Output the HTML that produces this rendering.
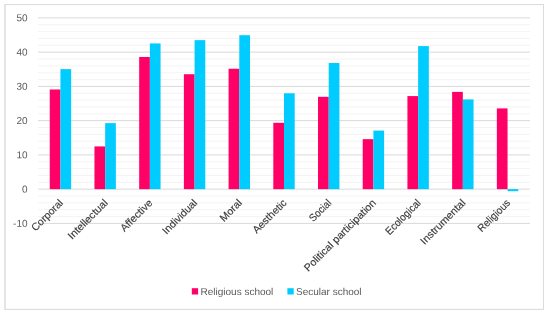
<!DOCTYPE html><html><head><meta charset="utf-8"><title>Chart</title><style>html,body{margin:0;padding:0;background:#fff}svg{display:block}text{font-family:"Liberation Sans",sans-serif;text-rendering:geometricPrecision}</style></head><body>
<svg width="550" height="313" viewBox="0 0 550 313">
<rect x="0" y="0" width="550" height="313" fill="#fff"/>
<rect x="4.9" y="4.55" width="538.6" height="304.85" fill="#fff" stroke="#dcdcdc" stroke-width="1.1"/>
<line x1="4.9" x2="4.9" y1="4" y2="310" stroke="#e2e2e2" stroke-width="1.5"/>
<line x1="38.1" x2="529.9" y1="223.40" y2="223.40" stroke="#d9d9d9" stroke-width="1"/>
<line x1="38.1" x2="529.9" y1="216.55" y2="216.55" stroke="#f0f0f0" stroke-width="0.8"/>
<line x1="38.1" x2="529.9" y1="209.70" y2="209.70" stroke="#f0f0f0" stroke-width="0.8"/>
<line x1="38.1" x2="529.9" y1="202.85" y2="202.85" stroke="#f0f0f0" stroke-width="0.8"/>
<line x1="38.1" x2="529.9" y1="196.00" y2="196.00" stroke="#f0f0f0" stroke-width="0.8"/>
<line x1="38.1" x2="529.9" y1="189.15" y2="189.15" stroke="#d9d9d9" stroke-width="1"/>
<line x1="38.1" x2="529.9" y1="182.30" y2="182.30" stroke="#f0f0f0" stroke-width="0.8"/>
<line x1="38.1" x2="529.9" y1="175.45" y2="175.45" stroke="#f0f0f0" stroke-width="0.8"/>
<line x1="38.1" x2="529.9" y1="168.60" y2="168.60" stroke="#f0f0f0" stroke-width="0.8"/>
<line x1="38.1" x2="529.9" y1="161.75" y2="161.75" stroke="#f0f0f0" stroke-width="0.8"/>
<line x1="38.1" x2="529.9" y1="154.90" y2="154.90" stroke="#d9d9d9" stroke-width="1"/>
<line x1="38.1" x2="529.9" y1="148.05" y2="148.05" stroke="#f0f0f0" stroke-width="0.8"/>
<line x1="38.1" x2="529.9" y1="141.20" y2="141.20" stroke="#f0f0f0" stroke-width="0.8"/>
<line x1="38.1" x2="529.9" y1="134.35" y2="134.35" stroke="#f0f0f0" stroke-width="0.8"/>
<line x1="38.1" x2="529.9" y1="127.50" y2="127.50" stroke="#f0f0f0" stroke-width="0.8"/>
<line x1="38.1" x2="529.9" y1="120.65" y2="120.65" stroke="#d9d9d9" stroke-width="1"/>
<line x1="38.1" x2="529.9" y1="113.80" y2="113.80" stroke="#f0f0f0" stroke-width="0.8"/>
<line x1="38.1" x2="529.9" y1="106.95" y2="106.95" stroke="#f0f0f0" stroke-width="0.8"/>
<line x1="38.1" x2="529.9" y1="100.10" y2="100.10" stroke="#f0f0f0" stroke-width="0.8"/>
<line x1="38.1" x2="529.9" y1="93.25" y2="93.25" stroke="#f0f0f0" stroke-width="0.8"/>
<line x1="38.1" x2="529.9" y1="86.40" y2="86.40" stroke="#d9d9d9" stroke-width="1"/>
<line x1="38.1" x2="529.9" y1="79.55" y2="79.55" stroke="#f0f0f0" stroke-width="0.8"/>
<line x1="38.1" x2="529.9" y1="72.70" y2="72.70" stroke="#f0f0f0" stroke-width="0.8"/>
<line x1="38.1" x2="529.9" y1="65.85" y2="65.85" stroke="#f0f0f0" stroke-width="0.8"/>
<line x1="38.1" x2="529.9" y1="59.00" y2="59.00" stroke="#f0f0f0" stroke-width="0.8"/>
<line x1="38.1" x2="529.9" y1="52.15" y2="52.15" stroke="#d9d9d9" stroke-width="1"/>
<line x1="38.1" x2="529.9" y1="45.30" y2="45.30" stroke="#f0f0f0" stroke-width="0.8"/>
<line x1="38.1" x2="529.9" y1="38.45" y2="38.45" stroke="#f0f0f0" stroke-width="0.8"/>
<line x1="38.1" x2="529.9" y1="31.60" y2="31.60" stroke="#f0f0f0" stroke-width="0.8"/>
<line x1="38.1" x2="529.9" y1="24.75" y2="24.75" stroke="#f0f0f0" stroke-width="0.8"/>
<line x1="38.1" x2="529.9" y1="17.90" y2="17.90" stroke="#d9d9d9" stroke-width="1"/>
<text transform="translate(27.5,226.85) rotate(0.03)" font-size="10" fill="#595959" text-anchor="end">-10</text>
<text transform="translate(27.5,192.60) rotate(0.03)" font-size="10" fill="#595959" text-anchor="end">0</text>
<text transform="translate(27.5,158.35) rotate(0.03)" font-size="10" fill="#595959" text-anchor="end">10</text>
<text transform="translate(27.5,124.10) rotate(0.03)" font-size="10" fill="#595959" text-anchor="end">20</text>
<text transform="translate(27.5,89.85) rotate(0.03)" font-size="10" fill="#595959" text-anchor="end">30</text>
<text transform="translate(27.5,55.60) rotate(0.03)" font-size="10" fill="#595959" text-anchor="end">40</text>
<text transform="translate(27.5,21.35) rotate(0.03)" font-size="10" fill="#595959" text-anchor="end">50</text>
<rect x="49.75" y="89.48" width="10.7" height="99.67" fill="#ff0066"/>
<rect x="60.45" y="69.10" width="10.7" height="120.05" fill="#00ccff"/>
<text transform="translate(63.75,203.55) rotate(-45)" font-size="10.5" fill="#3c3c3c" stroke="#3c3c3c" stroke-width="0.15" text-anchor="end" textLength="39.9" lengthAdjust="spacingAndGlyphs">Corporal</text>
<rect x="94.46" y="146.41" width="10.7" height="42.74" fill="#ff0066"/>
<rect x="105.16" y="123.15" width="10.7" height="66.00" fill="#00ccff"/>
<text transform="translate(108.46,203.55) rotate(-45)" font-size="10.5" fill="#3c3c3c" stroke="#3c3c3c" stroke-width="0.15" text-anchor="end" textLength="51.5" lengthAdjust="spacingAndGlyphs">Intellectual</text>
<rect x="139.17" y="56.95" width="10.7" height="132.20" fill="#ff0066"/>
<rect x="149.87" y="43.42" width="10.7" height="145.73" fill="#00ccff"/>
<text transform="translate(153.17,203.55) rotate(-45)" font-size="10.5" fill="#3c3c3c" stroke="#3c3c3c" stroke-width="0.15" text-anchor="end" textLength="40.6" lengthAdjust="spacingAndGlyphs">Affective</text>
<rect x="183.88" y="74.21" width="10.7" height="114.94" fill="#ff0066"/>
<rect x="194.58" y="40.16" width="10.7" height="148.99" fill="#00ccff"/>
<text transform="translate(197.88,203.55) rotate(-45)" font-size="10.5" fill="#3c3c3c" stroke="#3c3c3c" stroke-width="0.15" text-anchor="end" textLength="44.4" lengthAdjust="spacingAndGlyphs">Individual</text>
<rect x="228.59" y="68.73" width="10.7" height="120.42" fill="#ff0066"/>
<rect x="239.29" y="35.20" width="10.7" height="153.95" fill="#00ccff"/>
<text transform="translate(242.59,203.55) rotate(-45)" font-size="10.5" fill="#3c3c3c" stroke="#3c3c3c" stroke-width="0.15" text-anchor="end" textLength="26.3" lengthAdjust="spacingAndGlyphs">Moral</text>
<rect x="273.30" y="122.81" width="10.7" height="66.34" fill="#ff0066"/>
<rect x="284.00" y="93.28" width="10.7" height="95.87" fill="#00ccff"/>
<text transform="translate(287.30,203.55) rotate(-45)" font-size="10.5" fill="#3c3c3c" stroke="#3c3c3c" stroke-width="0.15" text-anchor="end" textLength="43.2" lengthAdjust="spacingAndGlyphs">Aesthetic</text>
<rect x="318.01" y="96.81" width="10.7" height="92.34" fill="#ff0066"/>
<rect x="328.71" y="63.01" width="10.7" height="126.14" fill="#00ccff"/>
<text transform="translate(332.01,203.55) rotate(-45)" font-size="10.5" fill="#3c3c3c" stroke="#3c3c3c" stroke-width="0.15" text-anchor="end" textLength="26.4" lengthAdjust="spacingAndGlyphs">Social</text>
<rect x="362.72" y="139.15" width="10.7" height="50.00" fill="#ff0066"/>
<rect x="373.42" y="130.58" width="10.7" height="58.57" fill="#00ccff"/>
<text transform="translate(376.72,203.55) rotate(-45)" font-size="10.5" fill="#3c3c3c" stroke="#3c3c3c" stroke-width="0.15" text-anchor="end" textLength="96.8" lengthAdjust="spacingAndGlyphs">Political participation</text>
<rect x="407.43" y="96.09" width="10.7" height="93.06" fill="#ff0066"/>
<rect x="418.13" y="46.09" width="10.7" height="143.06" fill="#00ccff"/>
<text transform="translate(421.43,203.55) rotate(-45)" font-size="10.5" fill="#3c3c3c" stroke="#3c3c3c" stroke-width="0.15" text-anchor="end" textLength="45.2" lengthAdjust="spacingAndGlyphs">Ecological</text>
<rect x="452.14" y="91.88" width="10.7" height="97.27" fill="#ff0066"/>
<rect x="462.84" y="99.42" width="10.7" height="89.73" fill="#00ccff"/>
<text transform="translate(466.14,203.55) rotate(-45)" font-size="10.5" fill="#3c3c3c" stroke="#3c3c3c" stroke-width="0.15" text-anchor="end" textLength="58.8" lengthAdjust="spacingAndGlyphs">Instrumental</text>
<rect x="496.85" y="108.39" width="10.7" height="80.76" fill="#ff0066"/>
<rect x="507.55" y="189.15" width="10.7" height="2.05" fill="#00ccff"/>
<text transform="translate(510.85,203.55) rotate(-45)" font-size="10.5" fill="#3c3c3c" stroke="#3c3c3c" stroke-width="0.15" text-anchor="end" textLength="41.0" lengthAdjust="spacingAndGlyphs">Religious</text>
<rect x="191.8" y="288.2" width="6.3" height="6.3" fill="#ff0066"/>
<text x="200.5" y="294.5" font-size="10" fill="#595959">Religious school</text>
<rect x="287.4" y="288.2" width="6.3" height="6.3" fill="#00ccff"/>
<text x="296" y="294.5" font-size="10" fill="#595959">Secular school</text>
</svg></body></html>
